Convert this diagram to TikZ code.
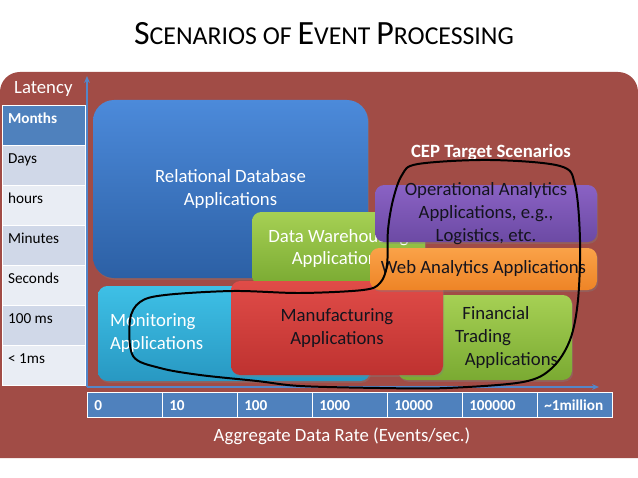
\documentclass[tikz,border=0pt]{standalone}
\usepackage{fontspec}
\setmainfont{Carlito}
\usetikzlibrary{positioning,shadows,arrows.meta}
\definecolor{brick}{RGB}{161,76,70}
\definecolor{tblue}{RGB}{79,129,189}
\definecolor{rowA}{RGB}{208,216,232}
\definecolor{rowB}{RGB}{233,237,244}
\definecolor{axisblue}{RGB}{84,134,200}
\definecolor{ink}{RGB}{20,20,30}
\definecolor{rdbtop}{RGB}{76,138,218}
\definecolor{rdbbot}{RGB}{44,96,165}
\definecolor{grtop}{RGB}{166,208,84}
\definecolor{grbot}{RGB}{122,170,50}
\definecolor{optop}{RGB}{138,98,196}
\definecolor{opbot}{RGB}{108,74,164}
\definecolor{ortop}{RGB}{250,162,72}
\definecolor{orbot}{RGB}{238,132,38}
\definecolor{cytop}{RGB}{62,192,230}
\definecolor{cybot}{RGB}{40,152,194}
\definecolor{redtop}{RGB}{224,76,72}
\definecolor{redbot}{RGB}{190,50,48}
\newcommand{\px}{0.03cm}
\newcommand{\initcap}[1]{{\fontsize{29}{30}\selectfont #1}}

\begin{document}
\begin{tikzpicture}[x=\px,y=-\px,
  app/.style={rounded corners=8pt, inner sep=0pt, align=center,
    drop shadow={opacity=.35,shadow xshift=1pt,shadow yshift=-1.5pt},
    font=\fontsize{16}{19.6}\selectfont},
  latcell/.style={anchor=north west, draw=white, line width=1pt,
    minimum width={83*\px}, minimum height={40*\px}, inner sep=0pt},
  lattext/.style={anchor=north west, inner xsep=5pt, inner ysep=5.4pt,
    text height=10pt, text depth=3pt, font=\fontsize{13}{15}\selectfont},
  ratecell/.style={anchor=north west, draw=white, line width=1pt, fill=tblue,
    minimum width={75*\px}, minimum height={25*\px}, inner sep=0pt},
  ratetext/.style={anchor=west, inner xsep=6pt, text depth=0pt, text=white,
    font=\fontsize{13}{15}\selectfont\bfseries},
  axisline/.style={axisblue, line width=1.6pt, -{Stealth[length=6pt,width=5pt]}},
  scribble/.style={line width=1.7pt, line join=round}]
\useasboundingbox (0,0) rectangle (638,478);
\fill[brick] (0,458) [rounded corners=17pt] -- (0,72) -- (638,72) [sharp corners] -- (638,458) -- cycle;

\node[font=\fontsize{22}{24}\selectfont] (title) at (324,34)
  {\initcap{S}CENARIOS OF \initcap{E}VENT \initcap{P}ROCESSING};

\node[anchor=west, text=white, font=\fontsize{16}{19}\selectfont] (latency) at (10,89) {Latency};
\node[latcell, fill=tblue, label={[lattext, text=white, font=\fontsize{13}{15}\selectfont\bfseries]north west:Months}] (lat0) at (2,105) {};
\foreach \lab/\col [count=\i] in {Days/rowA,hours/rowB,Minutes/rowA,Seconds/rowB,100 ms/rowA,< 1ms/rowB}
  \node[latcell, fill=\col, label={[lattext]north west:\lab}] (lat\i) at (2,105+40*\i) {};

\foreach \lab [count=\i from 0] in {0,10,100,1000,10000,100000,\textasciitilde1million}
  \node[ratecell, label={[ratetext]west:\lab}] (rate\i) at (87+75*\i,392) {};

\coordinate (orig) at (87,387);
\coordinate (ytop) at (87,76);
\coordinate (xend) at (599,387);
\draw[axisline] (orig) -- (ytop);
\draw[axisline] (orig) -- (xend);

\node[text=white, font=\fontsize{16}{19}\selectfont] (aggr) at (342,436) {Aggregate Data Rate (Events/sec.)};
\node[text=white, font=\fontsize{16}{19}\selectfont\bfseries] (cep) at (491,153) {CEP Target Scenarios};

\node[app, rounded corners=18pt, top color=rdbtop, bottom color=rdbbot, text=white,
  minimum width={275*\px}, minimum height={178*\px}] (rdb) at (230.5,189) {Relational Database\\Applications};
\node[app, top color=grtop, bottom color=grbot, text=white,
  minimum width={173*\px}, minimum height={73*\px}] (dw) at (338.5,248.5) {Data Warehousing\\Applications};
\node[app, top color=optop, bottom color=opbot,
  minimum width={222*\px}, minimum height={57*\px}] (ops) at (486,213.5) {};
\node[align=center, text=ink, font=\fontsize{16}{19.6}\selectfont] (opstext) at (ops)
  {Operational Analytics\\Applications, e.g.,\\Logistics, etc.};
\node[app, top color=cytop, bottom color=cybot, text=white, align=left, inner xsep=10.2pt,
  text width={248*\px}, minimum height={95*\px}] (mon) at (234,333.5) {Monitoring\\Applications};
\node[app, top color=grtop, bottom color=grbot, text=ink, align=left,
  text width={174*\px}, minimum height={85*\px}] (fin) at (485,337.5)
  {\hspace*{55pt}Financial\\\hspace*{48.7pt}Trading\\\hspace*{57pt}Applications};
\node[app, top color=redtop, bottom color=redbot, text=ink,
  minimum width={212*\px}, minimum height={94*\px}] (mfg) at (337,328) {Manufacturing\\Applications};
\node[app, top color=ortop, bottom color=orbot, text=ink,
  minimum width={227*\px}, minimum height={42*\px}] (web) at (483.5,269) {Web Analytics Applications};

\draw[scribble] plot[smooth cycle, tension=0.55] coordinates {
  (418,164) (490,160) (560,166) (575,185) (580,240) (578,300) (570,340) (552,368)
  (523,382) (447,388) (380,388) (300,386) (257,381) (200,375) (160,368) (133,356)
  (130,320) (140,302) (165,295) (233,291) (300,293) (363,290) (380,283) (387,265)
  (388,230) (393,200) (402,175)};
\end{tikzpicture}
\end{document}
